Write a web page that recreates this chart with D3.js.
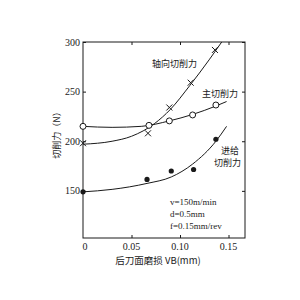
<!DOCTYPE html>
<html>
<head>
<meta charset="utf-8">
<script src="https://cdn.jsdelivr.net/npm/d3@7"></script>
<style>
  body { margin: 0; background: #fff; }
  svg { display: block; }
</style>
</head>
<body>
<script>
// flank wear VB (mm) vs cutting forces (N)
const axialX = [0, 0.067, 0.089, 0.111, 0.136];
const axialY = [198, 208, 234, 259, 292];
const mainX = [0, 0.068, 0.089, 0.113, 0.137];
const mainY = [215, 216, 220.5, 226.5, 236.5];
const feedX = [0, 0.066, 0.091, 0.114, 0.137];
const feedY = [149, 161.5, 170, 171.5, 202];

// fitted curves
const axialCurve = [[0, 197], [0.03, 200], [0.05, 205], [0.074, 218], [0.09, 232], [0.11, 256], [0.13, 282], [0.143, 300]];
const mainCurve = [[0, 215], [0.03, 214], [0.06, 215], [0.089, 220.5], [0.113, 227], [0.137, 235.5], [0.148, 240]];
const feedCurve = [[0, 149], [0.03, 151.5], [0.066, 157.5], [0.091, 164], [0.113, 177], [0.137, 200], [0.148, 215]];

const xTicks = [0, 0.05, 0.10, 0.15];
const xTickLabels = ["0", "0.05", "0.10", "0.15"];
const yTicks = [150, 200, 250, 300];

const ink = "#1a1a1a";
const serif = "'Liberation Serif', 'DejaVu Serif', serif";
const cjk = "'Noto Sans CJK SC', sans-serif";

const svg = d3.select("body").append("svg")
  .attr("width", 300)
  .attr("height", 300);

const x = d3.scaleLinear().domain([0, 0.167]).range([83, 245]);
const y = d3.scaleLinear().domain([102.5, 300]).range([238, 42]);

// frame
svg.append("rect")
  .attr("x", x(0)).attr("y", y(300))
  .attr("width", x(0.167) - x(0)).attr("height", y(102.5) - y(300))
  .attr("fill", "none").attr("stroke", ink).attr("stroke-width", 1);

// inward ticks on all four sides
svg.append("g").attr("transform", `translate(0,${y(102.5)})`)
  .call(d3.axisBottom(x).tickValues(xTicks.slice(1)).tickSize(-3).tickFormat(""))
  .call(g => g.select(".domain").remove())
  .call(g => g.selectAll("line").attr("stroke", ink));
svg.append("g").attr("transform", `translate(0,${y(300)})`)
  .call(d3.axisTop(x).tickValues(xTicks.slice(1)).tickSize(-3).tickFormat(""))
  .call(g => g.select(".domain").remove())
  .call(g => g.selectAll("line").attr("stroke", ink));
svg.append("g").attr("transform", `translate(${x(0)},0)`)
  .call(d3.axisLeft(y).tickValues(yTicks).tickSize(-3).tickFormat(""))
  .call(g => g.select(".domain").remove())
  .call(g => g.selectAll("line").attr("stroke", ink));
svg.append("g").attr("transform", `translate(${x(0.167)},0)`)
  .call(d3.axisRight(y).tickValues(yTicks).tickSize(-3).tickFormat(""))
  .call(g => g.select(".domain").remove())
  .call(g => g.selectAll("line").attr("stroke", ink));

// tick labels
svg.append("g").selectAll("text")
  .data(xTicks)
  .join("text")
  .attr("x", d => x(d) + (d === 0 ? 2 : 0))
  .attr("y", 250)
  .attr("text-anchor", "middle")
  .style("font-family", serif)
  .style("font-size", "10px")
  .attr("fill", ink)
  .text((d, i) => xTickLabels[i]);

svg.append("g").selectAll("text")
  .data(yTicks)
  .join("text")
  .attr("x", 80)
  .attr("y", d => y(d) + 3.5)
  .attr("text-anchor", "end")
  .style("font-family", serif)
  .style("font-size", "10px")
  .attr("fill", ink)
  .text(d => d);

// axis titles
svg.append("text")
  .attr("x", 158).attr("y", 264)
  .attr("text-anchor", "middle")
  .style("font-family", cjk)
  .style("font-size", "9.5px")
  .attr("fill", ink)
  .text("后刀面磨损 VB(mm)");

svg.append("text")
  .attr("transform", "translate(60,133) rotate(-90)")
  .attr("text-anchor", "middle")
  .style("font-family", cjk)
  .style("font-size", "9px")
  .attr("fill", ink)
  .text("切削力（N）");

// curves
const line = d3.line().x(d => x(d[0])).y(d => y(d[1])).curve(d3.curveMonotoneX);
[axialCurve, mainCurve, feedCurve].forEach(c => {
  svg.append("path")
    .datum(c)
    .attr("d", line)
    .attr("fill", "none")
    .attr("stroke", ink)
    .attr("stroke-width", 1);
});

// markers: axial = X
svg.append("g").selectAll("path")
  .data(axialX.map((v, i) => [v, axialY[i]]))
  .join("path")
  .attr("d", d => {
    const cx = x(d[0]), cy = y(d[1]), s = 3;
    return `M${cx - s},${cy - s}L${cx + s},${cy + s}M${cx - s},${cy + s}L${cx + s},${cy - s}`;
  })
  .attr("stroke", ink)
  .attr("stroke-width", 1);

// main = open circles
svg.append("g").selectAll("circle")
  .data(mainX.map((v, i) => [v, mainY[i]]))
  .join("circle")
  .attr("cx", d => x(d[0]))
  .attr("cy", d => y(d[1]))
  .attr("r", 3)
  .attr("fill", "#fff")
  .attr("stroke", ink)
  .attr("stroke-width", 1);

// feed = filled dots
svg.append("g").selectAll("circle")
  .data(feedX.map((v, i) => [v, feedY[i]]))
  .join("circle")
  .attr("cx", d => x(d[0]))
  .attr("cy", d => y(d[1]))
  .attr("r", 2.6)
  .attr("fill", ink);

// series labels
const labels = [
  { t: "轴向切削力", x: 152, y: 67 },
  { t: "主切削力", x: 202, y: 97 },
  { t: "进给", x: 221, y: 154 },
  { t: "切削力", x: 214, y: 166 }
];
svg.append("g").selectAll("text")
  .data(labels)
  .join("text")
  .attr("x", d => d.x)
  .attr("y", d => d.y)
  .style("font-family", cjk)
  .style("font-size", "9px")
  .attr("fill", ink)
  .text(d => d.t);

// cutting conditions
const conditions = ["v=150m/min", "d=0.5mm", "f=0.15mm/rev"];
svg.append("g").selectAll("text")
  .data(conditions)
  .join("text")
  .attr("x", 170)
  .attr("y", (d, i) => 205 + i * 12)
  .style("font-family", serif)
  .style("font-size", "9px")
  .attr("fill", ink)
  .text(d => d);
</script>
</body>
</html>
